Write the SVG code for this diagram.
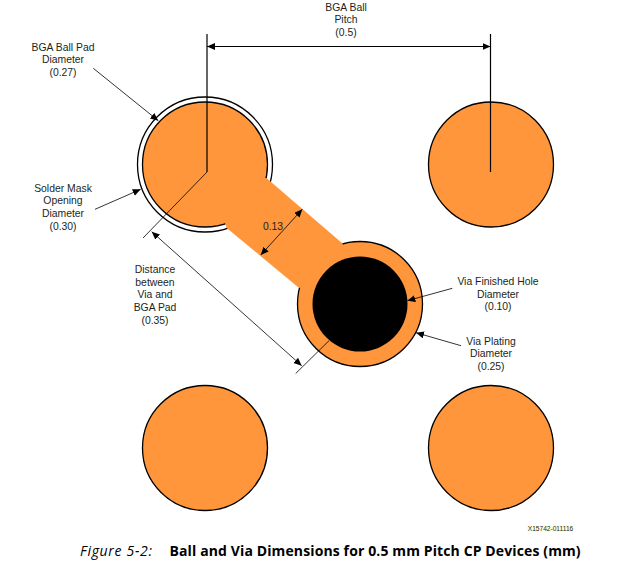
<svg xmlns="http://www.w3.org/2000/svg" width="625" height="580" viewBox="0 0 625 580">
<style>
text{font-family:"Liberation Sans",Arial,sans-serif;font-size:10.4px;fill:#231f20;text-anchor:middle}
.pad{fill:#ff963c;stroke:#000;stroke-width:1.3}
.dim{fill:none;stroke:#000;stroke-width:1.2}
.thin{fill:none;stroke:#000;stroke-width:.8}
.cap{font-family:"Open Sans","Noto Sans",sans-serif;font-size:14px;text-anchor:start;fill:#000}
</style>
<defs>
<marker id="a" markerUnits="userSpaceOnUse" markerWidth="10" markerHeight="8" refX="8" refY="3.5" orient="auto-start-reverse"><path d="M0 0L8 3.5L0 7Z" fill="#000"/></marker>
</defs>
<rect width="625" height="580" fill="#fff"/>
<g id="pad-top-left">
<circle cx="205" cy="164.5" r="67.5" fill="#fff" stroke="#000" stroke-width="1.3"/>
<circle class="pad" cx="205" cy="164.5" r="62.5"/>
</g>
<g id="pad-top-right"><circle class="pad" cx="491" cy="164.5" r="62.5"/></g>
<g id="pad-bottom-left"><circle class="pad" cx="205" cy="448" r="62.5"/></g>
<g id="pad-bottom-right"><circle class="pad" cx="491" cy="448" r="62.5"/></g>
<g id="via">
<circle class="pad" cx="360" cy="304" r="62.5"/>
<polygon points="266.7,178.3 342.5,243.5 360,304 298.5,287.5 226.7,228 205,164.5" fill="#ff963c"/>
<circle cx="360" cy="304" r="47.5" fill="#000"/>
</g>
<g id="connectors">
<path class="dim" d="M207 34V172M490.5 34V172"/>
<path class="dim" d="M207 46.5H490.5" marker-start="url(#a)" marker-end="url(#a)"/>
<path class="thin" d="M207 172L143 238M329 340.7L295.7 373.5"/>
<path class="thin" d="M151.7 231.7L301.7 365.7" marker-start="url(#a)" marker-end="url(#a)"/>
<path class="thin" d="M302.3 209.3L260.7 255" marker-start="url(#a)" marker-end="url(#a)"/>
<path class="thin" d="M93.3 68.3L158.3 120.7" marker-end="url(#a)"/>
<path class="thin" d="M95 209.3L140.7 189.3" marker-end="url(#a)"/>
<path class="thin" d="M452.3 288.3L407.3 300.7" marker-end="url(#a)"/>
<path class="thin" d="M461 345.7L416 332.7" marker-end="url(#a)"/>
</g>
<g id="labels">
<text x="346" y="11">BGA Ball</text><text x="346" y="23">Pitch</text><text x="346" y="36">(0.5)</text>
<text x="63" y="51">BGA Ball Pad</text><text x="63" y="63">Diameter</text><text x="63" y="76">(0.27)</text>
<text x="63" y="192">Solder Mask</text><text x="63" y="204">Opening</text><text x="63" y="217">Diameter</text><text x="63" y="230">(0.30)</text>
<text x="155" y="273">Distance</text><text x="155" y="286">between</text><text x="155" y="298">Via and</text><text x="155" y="311">BGA Pad</text><text x="155" y="324">(0.35)</text>
<text x="273" y="230">0.13</text>
<text x="498" y="285">Via Finished Hole</text><text x="498" y="298">Diameter</text><text x="498" y="310">(0.10)</text>
<text x="491" y="345">Via Plating</text><text x="491" y="357">Diameter</text><text x="491" y="370">(0.25)</text>
<rect x="527" y="525" width="47" height="7" fill="#ffffe0"/>
<text x="550.5" y="531" style="font-size:6.6px">X15742-011116</text>
<text class="cap" x="80" y="556" style="font-style:italic;letter-spacing:.7px">Figure 5-2:</text>
<text class="cap" x="169.5" y="556" style="font-weight:bold;letter-spacing:.12px">Ball and Via Dimensions for 0.5 mm Pitch CP Devices (mm)</text>
</g>
</svg>
